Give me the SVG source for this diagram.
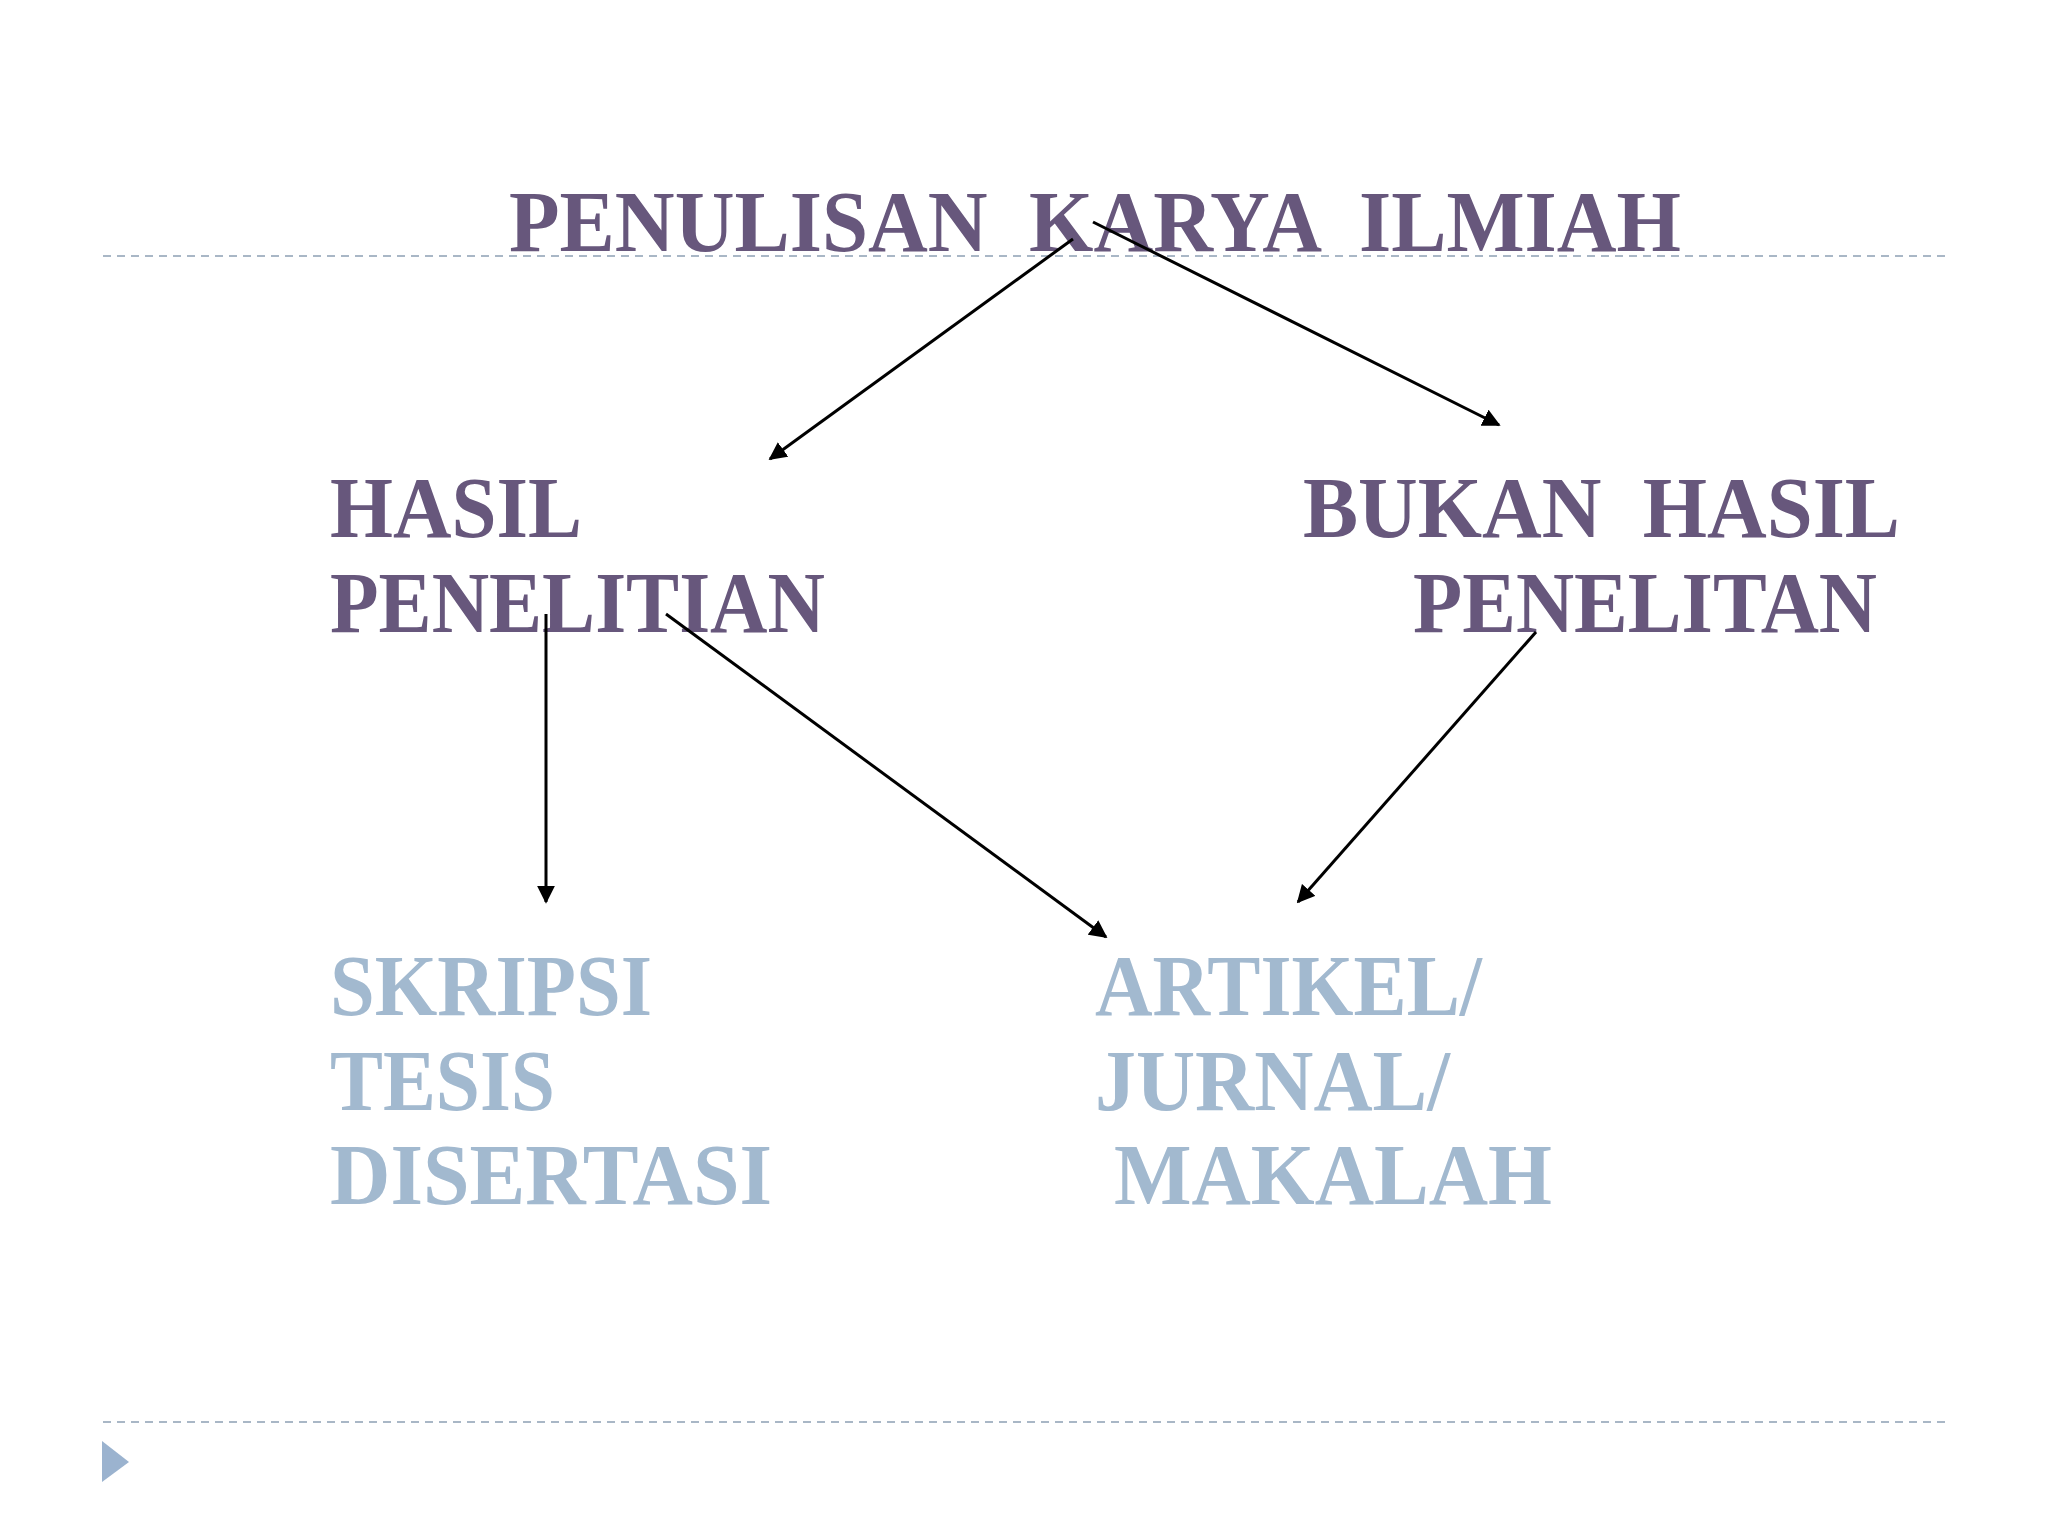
<svg xmlns="http://www.w3.org/2000/svg" width="2048" height="1536" viewBox="0 0 2048 1536">
<defs>
<style>
.t{font-family:"Liberation Serif","Times New Roman",serif;font-weight:bold;font-size:86px;}
.p{fill:#67577c;}
.b{fill:#a2b9cf;}
.dash{stroke:#a9b7c6;stroke-width:2;stroke-dasharray:8 6;fill:none;}
.c{stroke:#000;stroke-width:3;fill:none;marker-end:url(#ah);}
</style>
<marker id="ah" viewBox="0 0 10 10" refX="9" refY="5" markerWidth="6" markerHeight="6" markerUnits="strokeWidth" orient="auto">
<path d="M0,0 L10,5 L0,10 z" fill="#000"/>
</marker>
</defs>
<rect width="2048" height="1536" fill="#ffffff"/>
<g id="decor">
<line class="dash" x1="103" y1="256" x2="1946" y2="256"/>
<line class="dash" x1="103" y1="1422" x2="1946" y2="1422"/>
<polygon points="102,1441 102,1482 129,1462" fill="#9bb3cf"/>
</g>
<g id="title"><text class="t p" x="509" y="251" textLength="1172" lengthAdjust="spacingAndGlyphs" xml:space="preserve">PENULISAN  KARYA  ILMIAH</text></g>
<g id="hasil"><text class="t p" x="330" y="537" textLength="252" lengthAdjust="spacingAndGlyphs">HASIL</text><text class="t p" x="330" y="632" textLength="495" lengthAdjust="spacingAndGlyphs">PENELITIAN</text></g>
<g id="bukan"><text class="t p" x="1303" y="537" textLength="597" lengthAdjust="spacingAndGlyphs" xml:space="preserve">BUKAN  HASIL</text><text class="t p" x="1413" y="632" textLength="464" lengthAdjust="spacingAndGlyphs">PENELITAN</text></g>
<g id="skripsi"><text class="t b" x="330" y="1015" textLength="322" lengthAdjust="spacingAndGlyphs">SKRIPSI</text><text class="t b" x="330" y="1110" textLength="225" lengthAdjust="spacingAndGlyphs">TESIS</text><text class="t b" x="330" y="1204" textLength="442" lengthAdjust="spacingAndGlyphs">DISERTASI</text></g>
<g id="artikel"><text class="t b" x="1095" y="1015" textLength="387" lengthAdjust="spacingAndGlyphs">ARTIKEL/</text><text class="t b" x="1095" y="1110" textLength="355" lengthAdjust="spacingAndGlyphs">JURNAL/</text><text class="t b" x="1114" y="1204" textLength="438" lengthAdjust="spacingAndGlyphs">MAKALAH</text></g>
<g id="connectors">
<line class="c" x1="1073" y1="239" x2="770" y2="459"/>
<line class="c" x1="1093" y1="222" x2="1499" y2="425"/>
<line class="c" x1="546" y1="614" x2="546" y2="902"/>
<line class="c" x1="666" y1="614" x2="1106" y2="937"/>
<line class="c" x1="1536" y1="632" x2="1298" y2="902"/>
</g>
</svg>
